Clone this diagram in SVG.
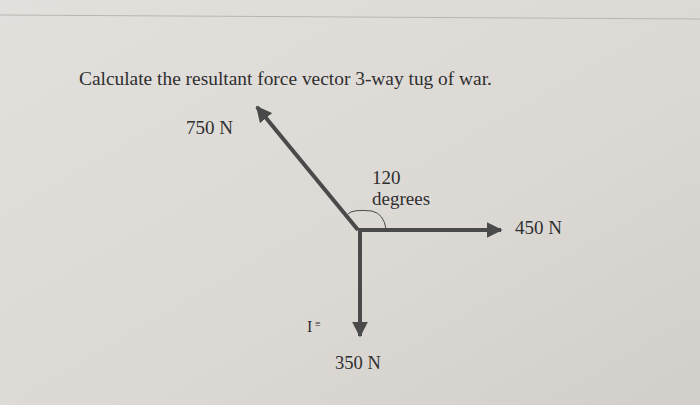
<svg xmlns="http://www.w3.org/2000/svg" width="700" height="405" viewBox="0 0 700 405">
<defs>
<linearGradient id="bg" x1="0" y1="0" x2="1" y2="1">
<stop offset="0" stop-color="#e2e0dc"/>
<stop offset="0.6" stop-color="#dcd9d5"/>
<stop offset="1" stop-color="#d2cfcb"/>
</linearGradient>
<marker id="ah" viewBox="0 0 10 10" refX="9" refY="5" markerWidth="4" markerHeight="4" orient="auto" markerUnits="strokeWidth">
<path d="M0,0 L10,5 L0,10 Z" fill="#4a4a4b"/>
</marker>
<style>
.t{font-family:"Liberation Serif","Times New Roman",serif;fill:#2f2f30;}
.l{font-size:19px;}
.v{stroke:#4a4a4b;stroke-width:4;fill:none;}
</style>
</defs>
<rect x="0" y="0" width="700" height="405" fill="url(#bg)"/>
<line x1="0" y1="15" x2="700" y2="19" stroke="#b8b6b3" stroke-width="1"/>
<g id="title"><text class="t" x="79" y="85" font-size="19.4">Calculate the resultant force vector 3-way tug of war.</text></g>
<g id="connectors">
<line class="v" x1="358" y1="230" x2="257" y2="107" marker-end="url(#ah)"/>
<line class="v" x1="358" y1="230" x2="501" y2="230" marker-end="url(#ah)"/>
<line class="v" x1="360" y1="228" x2="360" y2="336" marker-end="url(#ah)"/>
<path d="M348,214 Q352,209 372,211 Q384,214 386,229" fill="none" stroke="#4a4a4b" stroke-width="1"/>
</g>
<g id="f750"><text class="t l" x="186" y="134">750 N</text></g>
<g id="angle"><text class="t l" x="372" y="184">120</text><text class="t l" x="372" y="205">degrees</text></g>
<g id="f450"><text class="t l" x="515" y="234">450 N</text></g>
<g id="f350"><text class="t l" x="335" y="369" style="font-size:18.5px">350 N</text></g>
<g id="mark"><text class="t" x="307" y="332" font-size="16">I</text><text class="t" x="315" y="327" font-size="10">≡</text></g>
</svg>
